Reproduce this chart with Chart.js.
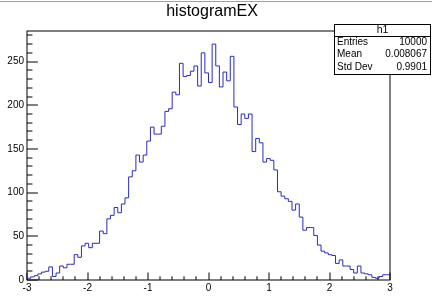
<!DOCTYPE html>
<html>
<head>
<meta charset="utf-8">
<script src="https://cdn.jsdelivr.net/npm/chart.js@4"></script>
<style>
html,body{margin:0;padding:0;background:#fff;}
canvas{display:block;}
</style>
</head>
<body>
<canvas id="c" width="432" height="304" style="width:432px;height:304px"></canvas>
<script>
// ---- data ----
const chartTitle = 'histogramEX';
const xMin = -3, xMax = 3;
const binValues = [
  2, 2, 3.5, 5, 7, 9, 10, 15, 4, 8,
  16, 14, 18, 18, 29, 26, 39, 42, 37, 42,
  42, 56, 53, 70, 74, 83, 77, 87, 94, 118,
  125, 143, 135, 143, 159, 175, 167, 167, 176, 193,
  196, 215, 212, 248, 233, 234, 239, 245, 222, 260,
  237, 226, 270, 245, 221, 238, 228, 256, 198, 178,
  190, 185, 190, 147, 162, 157, 135, 139, 137, 126,
  101, 96, 93, 90, 80, 87, 72, 57, 60, 60,
  51, 40, 33, 31, 29, 28, 19, 23, 16, 16,
  12, 8, 16, 8, 7, 6, 3, 2, 4, 6
];
const yMax = 285;
const xTickLabels = [-3, -2, -1, 0, 1, 2, 3];
const yTickLabels = [0, 50, 100, 150, 200, 250];
const xMinorStep = 0.2, yMinorStep = 10;
const statsName = 'h1';
const statsLabels = ['Entries', 'Mean', 'Std Dev'];
const statsValues = ['10000', '0.008067', '0.9901'];

// ---- build points (bin left edges + final right edge) ----
const binW = (xMax - xMin) / binValues.length;
const pts = binValues.map((v, i) => ({x: xMin + i * binW, y: v}));
pts.push({x: xMax, y: binValues[binValues.length - 1]});

const FONT = "'Liberation Sans', Arial, Helvetica, sans-serif";

const decor = {
  id: 'decor',
  beforeDatasetsDraw(chart) {
    const ctx = chart.ctx, a = chart.chartArea;
    const xs = chart.scales.x, ys = chart.scales.y;
    ctx.save();
    // top window line
    ctx.strokeStyle = '#a0a0a0';
    ctx.lineWidth = 1;
    ctx.beginPath(); ctx.moveTo(0, 1.5); ctx.lineTo(432, 1.5); ctx.stroke();
    // ticks
    ctx.strokeStyle = '#000';
    ctx.lineWidth = 1;
    ctx.beginPath();
    const xLenMaj = 0.03 * (a.bottom - a.top), yLenMaj = 0.03 * (a.right - a.left);
    for (let v = xMin, k = 0; v <= xMax + 1e-9; k++, v = xMin + k * xMinorStep) {
      const px = Math.round(xs.getPixelForValue(v));
      const major = Math.abs(v - Math.round(v)) < 1e-6;
      const len = major ? xLenMaj : xLenMaj / 2;
      ctx.moveTo(px, a.bottom); ctx.lineTo(px, a.bottom - len);
    }
    for (let v = 0; v <= yMax; v += yMinorStep) {
      const py = Math.round(ys.getPixelForValue(v));
      const major = v % 50 === 0;
      const len = major ? yLenMaj : yLenMaj / 2;
      ctx.moveTo(a.left, py); ctx.lineTo(a.left + len, py);
    }
    ctx.stroke();
    // frame
    ctx.strokeStyle = '#000';
    ctx.strokeRect(Math.round(a.left), Math.round(a.top), Math.round(a.right - a.left), Math.round(a.bottom - a.top));
    ctx.restore();
  },
  afterDraw(chart) {
    const ctx = chart.ctx;
    ctx.save();
    // title
    ctx.fillStyle = '#000';
    ctx.font = '16px ' + FONT;
    ctx.textAlign = 'center';
    ctx.textBaseline = 'middle';
    ctx.fillText(chartTitle, 212, 12);
    // stats box
    const bx = 334.5, by = 24.5, bw = 96, bh = 50;
    ctx.fillStyle = '#fff';
    ctx.fillRect(bx, by, bw, bh);
    ctx.strokeStyle = '#000';
    ctx.lineWidth = 1;
    ctx.strokeRect(bx, by, bw, bh);
    ctx.beginPath(); ctx.moveTo(bx, 36.5); ctx.lineTo(bx + bw, 36.5); ctx.stroke();
    ctx.fillStyle = '#000';
    ctx.font = '10.5px ' + FONT;
    ctx.textAlign = 'center';
    ctx.fillText(statsName, bx + bw / 2, 30.5);
    ctx.font = '10px ' + FONT;
    const rowY = [42, 54.5, 67];
    statsLabels.forEach((l, i) => {
      ctx.textAlign = 'left';
      ctx.fillText(l, 337, rowY[i]);
      ctx.textAlign = 'right';
      ctx.fillText(statsValues[i], 427, rowY[i]);
    });
    ctx.restore();
  }
};

new Chart(document.getElementById('c'), {
  type: 'line',
  data: {
    datasets: [{
      data: pts,
      stepped: 'after',
      borderColor: '#2b2bc0',
      borderWidth: 1,
      pointRadius: 0,
      fill: false
    }]
  },
  options: {
    responsive: false,
    animation: false,
    devicePixelRatio: 1,
    parsing: false,
    layout: {padding: {left: 0, right: 42, top: 31, bottom: 0}},
    plugins: {legend: {display: false}, tooltip: {enabled: false}, title: {display: false}},
    scales: {
      x: {
        type: 'linear', min: xMin, max: xMax,
        afterBuildTicks: s => { s.ticks = xTickLabels.map(v => ({value: v})); },
        afterFit: s => { s.height = 24; },
        grid: {display: false, drawTicks: false}, border: {display: false},
        ticks: {font: {family: FONT, size: 10}, color: '#000', padding: 2, maxRotation: 0, autoSkip: false}
      },
      y: {
        type: 'linear', min: 0, max: yMax,
        afterBuildTicks: s => { s.ticks = yTickLabels.map(v => ({value: v})); },
        afterFit: s => { s.width = 27; },
        grid: {display: false, drawTicks: false}, border: {display: false},
        ticks: {font: {family: FONT, size: 10}, color: '#000', padding: 3, autoSkip: false}
      }
    }
  },
  plugins: [decor]
});
</script>
</body>
</html>
